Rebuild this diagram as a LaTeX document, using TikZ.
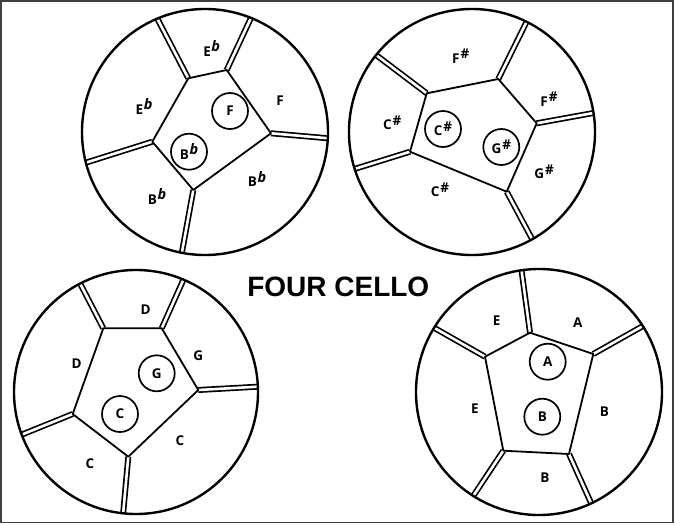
\documentclass[tikz,border=0pt]{standalone}
\usepackage{fontspec}
\setmainfont{Open Sans}
\newfontfamily\titlefont{Liberation Sans}
\usetikzlibrary{calc}
\newcommand{\lblfont}{\bfseries\fontsize{13.5}{14}\selectfont}
\newcommand{\fl}[1]{#1\kern0.6pt\raisebox{4.5pt}{\fontsize{14.5}{15}\selectfont\itshape b}}
\newcommand{\shp}[1]{#1\kern1pt\raisebox{4.5pt}{\#}}
\begin{document}
\begin{tikzpicture}[x=1pt,y=-1pt,
  frame/.style={draw=black!75, line width=1.6pt},
  panrim/.style={circle, draw, line width=2.4pt, minimum size=246pt, inner sep=0pt},
  padedge/.style={draw, line width=1.8pt, line join=round},
  groove/.style={draw, line width=1.7pt, double=white, double distance=2.6pt},
  note/.style={circle, draw, line width=1.7pt, minimum size=36pt, inner sep=0pt, font=\lblfont},
  lbl/.style={inner sep=0pt, font=\lblfont},
  title/.style={font=\titlefont\bfseries\fontsize{28}{28}\selectfont, inner sep=0pt, anchor=base}]
\useasboundingbox (0,0) rectangle (675,525);
\draw[frame] (0.8,0.8) rectangle (673.2,522.6);

% ---------------- Pan 1 (top left) ----------------
\coordinate (c1) at (205,132);
\coordinate (v11) at (188.3,78.3);  \coordinate (g11) at (158,20);
\coordinate (v12) at (226.7,70);    \coordinate (g12) at (250,20);
\coordinate (v13) at (271,133.3);   \coordinate (g13) at (325,138);
\coordinate (v14) at (193.3,190);   \coordinate (g14) at (182,252);
\coordinate (v15) at (152.3,141.7); \coordinate (g15) at (88,162);
\begin{scope}
  \clip (c1) circle (123pt);
  \foreach \i in {1,...,5} \draw[groove] (v1\i) -- ($(v1\i)!1.3!(g1\i)$);
\end{scope}
\draw[padedge] (v11) -- (v12) -- (v13) -- (v14) -- (v15) -- cycle;
\node[panrim] (pan1) at (c1) {};
\node[lbl] (l11) at (211.7,48.3) {\fl{E}};
\node[lbl] (l12) at (144,106.7) {\fl{E}};
\node[lbl] (l13) at (280,100.7) {F};
\node[lbl] (l14) at (157,196.7) {\fl{B}};
\node[lbl] (l15) at (257,179) {\fl{B}};
\node[note] (n11) at (230,111) {F};
\node[note] (n12) at (189,151.7) {\fl{B}};

% ---------------- Pan 2 (top right) ----------------
\coordinate (c2) at (472,132);
\coordinate (v21) at (426.7,93.3);  \coordinate (g21) at (378.3,56.7);
\coordinate (v22) at (498.3,79);    \coordinate (g22) at (525,25);
\coordinate (v23) at (536.7,123.3); \coordinate (g23) at (591.7,113.3);
\coordinate (v24) at (506.7,191.7); \coordinate (g24) at (531.7,238.3);
\coordinate (v25) at (410,151.7);   \coordinate (g25) at (356.7,168.3);
\begin{scope}
  \clip (c2) circle (123pt);
  \foreach \i in {1,...,5} \draw[groove] (v2\i) -- ($(v2\i)!1.3!(g2\i)$);
\end{scope}
\draw[padedge] (v21) -- (v22) -- (v23) -- (v24) -- (v25) -- cycle;
\node[panrim] (pan2) at (c2) {};
\node[lbl] (l21) at (460.7,56) {\shp{F}};
\node[lbl] (l22) at (549,99) {\shp{F}};
\node[lbl] (l23) at (392.3,122.7) {\shp{C}};
\node[lbl] (l24) at (544,171.7) {\shp{G}};
\node[lbl] (l25) at (440,190) {\shp{C}};
\node[note] (n21) at (443,129) {\shp{C}};
\node[note] (n22) at (501.3,147) {\shp{G}};

% ---------------- Pan 3 (bottom left) ----------------
\coordinate (c3) at (136,392);
\coordinate (v31) at (103.3,328.3); \coordinate (g31) at (80,283.3);
\coordinate (v32) at (161.7,328.3); \coordinate (g32) at (183.3,280);
\coordinate (v33) at (198.3,390);   \coordinate (g33) at (257.3,386.7);
\coordinate (v34) at (128.3,456.7); \coordinate (g34) at (123.3,511.7);
\coordinate (v35) at (72.7,414);    \coordinate (g35) at (23.3,434);
\begin{scope}
  \clip (c3) circle (122pt);
  \foreach \i in {1,...,5} \draw[groove] (v3\i) -- ($(v3\i)!1.3!(g3\i)$);
\end{scope}
\draw[padedge] (v31) -- (v32) -- (v33) -- (v34) -- (v35) -- cycle;
\node[panrim, minimum size=244pt] (pan3) at (c3) {};
\node[lbl] (l31) at (145.7,309.3) {D};
\node[lbl] (l32) at (76.7,364) {D};
\node[lbl] (l33) at (198.3,355.7) {G};
\node[lbl] (l34) at (180,440.7) {C};
\node[lbl] (l35) at (90,463.3) {C};
\node[note] (n31) at (156.7,373.3) {G};
\node[note] (n32) at (120,414) {C};

% ---------------- Pan 4 (bottom right) ----------------
\coordinate (c4) at (539,392);
\coordinate (v41) at (530,332.7);   \coordinate (g41) at (521.7,271.7);
\coordinate (v42) at (593.3,354);   \coordinate (g42) at (641.7,326.7);
\coordinate (v43) at (569,454);     \coordinate (g43) at (590,500.7);
\coordinate (v44) at (503.3,450.7); \coordinate (g44) at (475,493.3);
\coordinate (v45) at (485,356.7);   \coordinate (g45) at (435,328.3);
\begin{scope}
  \clip (c4) circle (123pt);
  \foreach \i in {1,...,5} \draw[groove] (v4\i) -- ($(v4\i)!1.3!(g4\i)$);
\end{scope}
\draw[padedge] (v41) -- (v42) -- (v43) -- (v44) -- (v45) -- cycle;
\node[panrim] (pan4) at (c4) {};
\node[lbl] (l41) at (496.7,320.7) {E};
\node[lbl] (l42) at (577.7,322.7) {A};
\node[lbl] (l43) at (475,408.3) {E};
\node[lbl] (l44) at (604.3,411.7) {B};
\node[lbl] (l45) at (545,477.3) {B};
\node[note] (n41) at (547.7,361.7) {A};
\node[note] (n42) at (542.3,416.7) {B};

% ---------------- Title ----------------
\node[title] (ttl) at (338.3,296.7) {FOUR CELLO};
\end{tikzpicture}
\end{document}
